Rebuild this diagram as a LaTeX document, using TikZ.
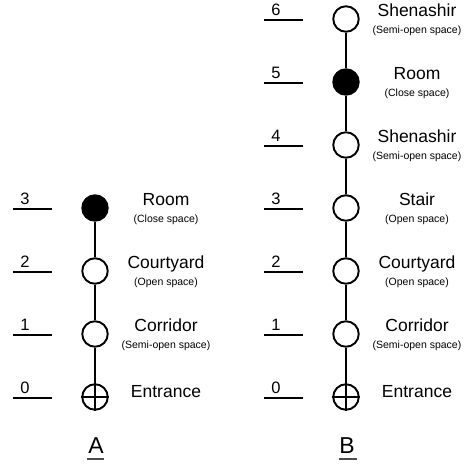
\documentclass[tikz,border=0pt]{standalone}
\usepackage{fontspec}
\setmainfont{Liberation Sans}
\tikzset{
  abierto/.style={circle, draw, line width=1.9pt, minimum size=25.5pt, inner sep=0pt, fill=white},
  cerrado/.style={abierto, fill=black},
  entrada/.style={abierto},
  nombre/.style={font=\fontsize{17.5}{17.5}\selectfont, anchor=base, inner sep=0pt, xshift=71pt},
  tipo/.style={font=\fontsize{10.5}{10.5}\selectfont, anchor=base, inner sep=0pt, xshift=71pt, yshift=-14pt},
  nivel/.style={font=\fontsize{16.5}{16.5}\selectfont, anchor=base, inner sep=0pt},
  letra/.style={font=\fontsize{23}{23}\selectfont, anchor=base, inner sep=0pt}
}
\begin{document}
\begin{tikzpicture}[x=1pt,y=-1pt]
\useasboundingbox (0,0) rectangle (474,472);
% Niveles
\foreach \k in {0,...,3}{
  \draw[line width=2pt] (13,{398-63*\k}) -- +(39,0);
  \node[nivel] (na\k) at (25,{393-63*\k}) {\k};
}
\foreach \k in {0,...,6}{
  \draw[line width=2pt] (264,{398-63*\k}) -- +(39,0);
  \node[nivel] (nb\k) at (276,{393-63*\k}) {\k};
}
% Columna A
\foreach \k/\s in {0/entrada,1/abierto,2/abierto,3/cerrado}
  \node[\s] (a\k) at (95,{397-63*\k}) {};
\draw[line width=1.5pt] (a0) -- (a1) -- (a2) -- (a3);
\draw[line width=1.8pt] (a0.north) -- (a0.south) (a0.west) -- (a0.east);
\node[nombre, yshift=0pt] (a0n) at (a0) {Entrance};
\node[nombre, yshift=3pt] (a1n) at (a1) {Corridor};
\node[tipo] (a1t) at (a1) {(Semi-open space)};
\node[nombre, yshift=3pt] (a2n) at (a2) {Courtyard};
\node[tipo] (a2t) at (a2) {(Open space)};
\node[nombre, yshift=3pt] (a3n) at (a3) {Room};
\node[tipo] (a3t) at (a3) {(Close space)};
\node[letra] (A) at (96,453) {A};
\draw[line width=1.2pt, black!70] (87,459) -- (104,459);
% Columna B
\foreach \k/\s in {0/entrada,1/abierto,2/abierto,3/abierto,4/abierto,5/cerrado,6/abierto}
  \node[\s] (b\k) at (346,{397-63*\k}) {};
\draw[line width=1.5pt] (b0) -- (b1) -- (b2) -- (b3) -- (b4) -- (b5) -- (b6);
\draw[line width=1.8pt] (b0.north) -- (b0.south) (b0.west) -- (b0.east);
\node[nombre, yshift=0pt] (b0n) at (b0) {Entrance};
\node[nombre, yshift=3pt] (b1n) at (b1) {Corridor};
\node[tipo] (b1t) at (b1) {(Semi-open space)};
\node[nombre, yshift=3pt] (b2n) at (b2) {Courtyard};
\node[tipo] (b2t) at (b2) {(Open space)};
\node[nombre, yshift=3pt] (b3n) at (b3) {Stair};
\node[tipo] (b3t) at (b3) {(Open space)};
\node[nombre, yshift=3pt] (b4n) at (b4) {Shenashir};
\node[tipo] (b4t) at (b4) {(Semi-open space)};
\node[nombre, yshift=3pt] (b5n) at (b5) {Room};
\node[tipo] (b5t) at (b5) {(Close space)};
\node[nombre, yshift=3pt] (b6n) at (b6) {Shenashir};
\node[tipo] (b6t) at (b6) {(Semi-open space)};
\node[letra] (B) at (347,453) {B};
\draw[line width=1.2pt, black!70] (339,459) -- (357,459);
\end{tikzpicture}
\end{document}
